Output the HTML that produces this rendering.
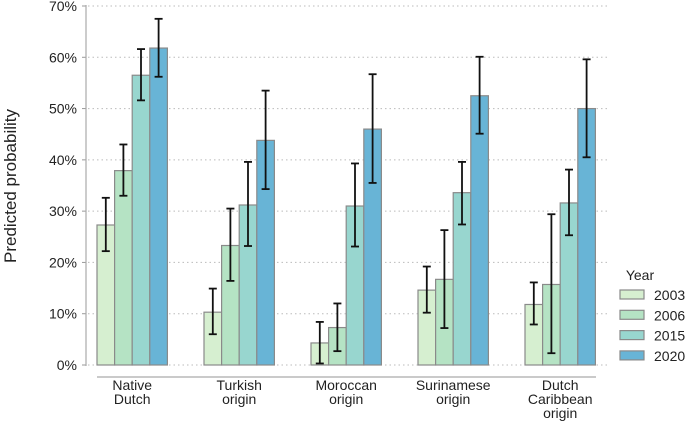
<!DOCTYPE html>
<html><head><meta charset="utf-8"><style>
body{margin:0;background:#fff}
svg text{font-family:"Liberation Sans",sans-serif;fill:#222}
</style></head><body>
<svg id="c" width="685" height="421"></svg>
<script>
const categories=[["Native","Dutch"],["Turkish","origin"],["Moroccan","origin"],["Surinamese","origin"],["Dutch","Caribbean","origin"]];
const years=["2003","2006","2015","2020"];
const values=[[27.3,37.9,56.5,61.8],[10.3,23.3,31.2,43.8],[4.3,7.3,31.0,46.0],[14.6,16.7,33.6,52.5],[11.8,15.7,31.6,50.0]];
const lower=[[22.2,33.0,51.6,56.2],[6.0,16.4,23.2,34.3],[0.3,2.7,23.1,35.5],[10.2,7.2,27.4,45.1],[7.9,2.3,25.3,40.5]];
const upper=[[32.6,43.0,61.6,67.5],[14.9,30.5,39.6,53.5],[8.4,12.0,39.3,56.7],[19.2,26.3,39.6,60.1],[16.1,29.4,38.1,59.6]];
const ticks=[0,10,20,30,40,50,60,70];
const colors=["#d6efd0","#b5e3c4","#98d6cf","#68b4d6"];
const svg=document.getElementById('c');const NS="http://www.w3.org/2000/svg";
function mk(t,a,p){const e=document.createElementNS(NS,t);for(const k in a)e.setAttribute(k,a[k]);(p||svg).appendChild(e);return e;}
const y=v=>365-v*(359/70);
const gx=i=>97+i*107, bw=17.6;
ticks.forEach(t=>{
 const l=mk('line',{x1:88,x2:607,y1:y(t),y2:y(t),stroke:'#bbb','stroke-dasharray':'1.5,3'});
 
 
 mk('line',{x1:82,x2:86,y1:y(t),y2:y(t),stroke:'#999'});
 const tx=mk('text',{x:77,y:y(t)+5,'text-anchor':'end','font-size':14});tx.textContent=t+'%';
 
 
});
const ax=mk('line',{x1:86,x2:86,y1:5,y2:366,stroke:'#aaa','stroke-width':1.2});


const xa=mk('line',{x1:97,x2:596,y1:377,y2:377,stroke:'#aaa','stroke-width':1.2});


const yt=mk('text',{x:16,y:186,'text-anchor':'middle','font-size':17,transform:'rotate(-90 16 186)'});yt.textContent='Predicted probability';


categories.forEach((c,i)=>{
 values[i].forEach((v,j)=>{
  const x=gx(i)+j*bw;
  const r=mk('rect',{x:x,y:y(v),width:bw,height:y(0)-y(v),fill:colors[j],stroke:'#8a8a8a','stroke-width':1.2});
  
  
  const cx=x+bw/2;
  const g=mk('g',{stroke:'#111','stroke-width':1.8});
  
  
  mk('line',{x1:cx,x2:cx,y1:y(lower[i][j]),y2:y(upper[i][j])},g);
  mk('line',{x1:cx-4,x2:cx+4,y1:y(lower[i][j]),y2:y(lower[i][j])},g);
  mk('line',{x1:cx-4,x2:cx+4,y1:y(upper[i][j]),y2:y(upper[i][j])},g);
 });
 c.forEach((s,k)=>{
  const t=mk('text',{x:gx(i)+2*bw,y:390+k*14,'text-anchor':'middle','font-size':14});t.textContent=s;
  
  
 });
});
const lt=mk('text',{x:640,y:280,'text-anchor':'middle','font-size':14});lt.textContent='Year';


years.forEach((yr,j)=>{
 const g=mk('g',{});
 
 
 mk('rect',{x:620,y:290+j*20.3,width:24,height:9,fill:colors[j],stroke:'#8a8a8a','stroke-width':1.2},g);
 const t=mk('text',{x:654,y:300+j*20.3,'font-size':14},g);t.textContent=yr;
});
</script>
</body></html>
